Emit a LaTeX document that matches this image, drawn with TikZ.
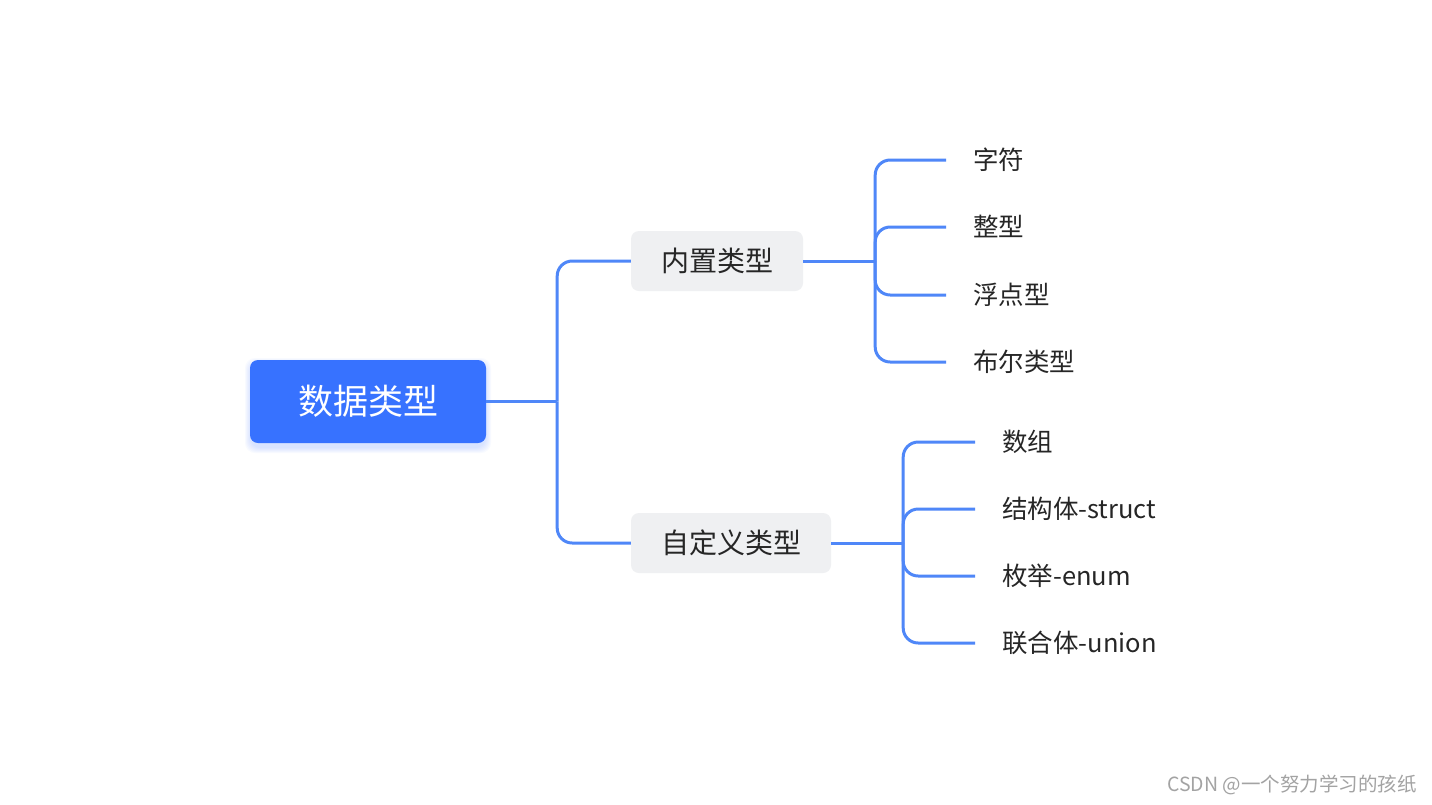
\documentclass[tikz,border=0pt]{standalone}
\usepackage{fontspec}
\setmainfont{Noto Sans CJK SC}
\definecolor{rootblue}{HTML}{3772FF}
\definecolor{branchgray}{HTML}{EFF0F2}
\definecolor{linkblue}{HTML}{4F87F8}
\definecolor{txt}{HTML}{262626}
\definecolor{wmgray}{HTML}{A3A3A3}
\tikzset{
  rootbox/.style={fill=rootblue, text=white, rounded corners=8pt, minimum width=236pt, minimum height=83pt, inner sep=0pt, font=\fontsize{35}{40}\selectfont},
  branchbox/.style={fill=branchgray, text=txt, rounded corners=8pt, minimum height=60pt, inner sep=0pt, font=\fontsize{28}{34}\selectfont},
  leafbox/.style={anchor=west, text=txt, inner xsep=27pt, inner ysep=0pt, text height=1.98em, text depth=0.12em, font=\fontsize{25.5}{30}\selectfont},
  conn/.style={draw=linkblue, line width=3pt, rounded corners=15pt},
}
\begin{document}
\begin{tikzpicture}[x=1pt,y=-1pt]
\useasboundingbox[fill=white] (0,0) rectangle (1432,804);
% shadow of root
\foreach \i in {1,...,6}{
  \fill[rootblue, opacity=0.03, rounded corners=10pt] (251-\i,364-\i) rectangle (485+\i,447+\i);
}
\node[rootbox] (root) at (368,401.5) {数据类型};
\node[branchbox, minimum width=172pt] (b1) at (717,261) {内置类型};
\node[branchbox, minimum width=200pt] (b2) at (731,543) {自定义类型};
\node[leafbox] (l1) at (946,160) {字符};
\node[leafbox] (l2) at (946,227) {整型};
\node[leafbox] (l3) at (946,295) {浮点型};
\node[leafbox] (l4) at (946,362) {布尔类型};
\node[leafbox] (m1) at (975,442) {数组};
\node[leafbox] (m2) at (975,509) {结构体-struct};
\node[leafbox] (m3) at (975,576) {枚举-enum};
\node[leafbox] (m4) at (975,643) {联合体-union};
% connectors
\draw[conn] (root.east) -- ++(71,0) coordinate (j0);
\draw[conn] (j0) |- (b1.west);
\draw[conn] (j0) |- (b2.west);
\draw[conn] (b1.east) -- ++(72,0) coordinate (j1);
\foreach \n in {l1,l2,l3,l4}{ \draw[conn] (j1) |- (\n.west); }
\draw[conn] (b2.east) -- ++(72,0) coordinate (j2);
\foreach \n in {m1,m2,m3,m4}{ \draw[conn] (j2) |- (\n.west); }
\node[anchor=east, text=wmgray, inner sep=0pt, font=\fontsize{19.5}{24}\selectfont] (wm) at (1417,785) {CSDN @一个努力学习的孩纸};
\end{tikzpicture}
\end{document}
